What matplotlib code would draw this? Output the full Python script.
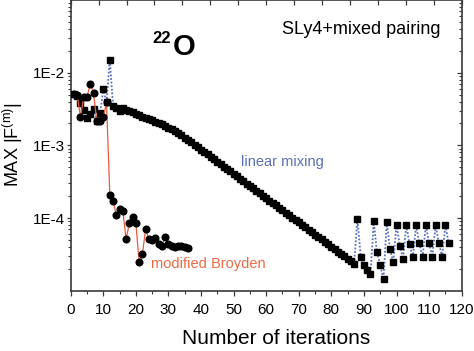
import numpy as np
import matplotlib
matplotlib.use("Agg")
import matplotlib.pyplot as plt
from matplotlib.ticker import FixedLocator, NullFormatter, FixedFormatter

plt.rcParams['font.family'] = ['Liberation Sans', 'DejaVu Sans']
plt.rcParams['mathtext.fontset'] = 'custom'
plt.rcParams['mathtext.rm'] = 'Liberation Sans'
plt.rcParams['mathtext.it'] = 'Liberation Sans'

# ---- data (log10 of MAX|F^(m)|) ----
linear_iter = list(range(1, 117))
linear_log10 = [
    -2.30, -2.32, -2.42, -2.51, -2.63, -2.57, -2.50, -2.66, -2.56, -2.23,
    -2.41, -1.82, -2.46, -2.49, -2.53, -2.48, -2.51,
    -2.528, -2.547, -2.566, -2.585, -2.604, -2.621, -2.637, -2.653, -2.672,
    -2.691, -2.711, -2.733, -2.756, -2.781, -2.807, -2.835, -2.864, -2.894,
    -2.926, -2.959, -2.991, -3.025, -3.058,
    -3.091, -3.125, -3.158, -3.192, -3.225, -3.258, -3.292, -3.325, -3.359,
    -3.392, -3.425, -3.459, -3.492, -3.526, -3.559, -3.592, -3.626, -3.659,
    -3.693, -3.726, -3.759, -3.793, -3.826, -3.860, -3.893, -3.926, -3.960,
    -3.993, -4.027, -4.060, -4.093, -4.127, -4.160, -4.194, -4.227, -4.260,
    -4.294, -4.327, -4.361, -4.394, -4.427, -4.461, -4.494, -4.528, -4.561,
    -4.594, -4.628,
    -4.01, -4.53, -4.65, -4.71, -4.77, -4.04, -4.47, -4.65, -4.84,
    -4.06, -4.43, -4.61, -4.09, -4.38, -4.56, -4.10, -4.36, -4.54,
    -4.10, -4.35, -4.54, -4.10, -4.35, -4.53, -4.10, -4.35, -4.53,
    -4.10, -4.35,
]

broyden_iter = list(range(1, 37))
broyden_log10 = [
    -2.29, -2.31, -2.61, -2.34, -2.34, -2.15, -2.28, -2.67, -2.67, -2.61,
    -2.41,
    -3.68, -3.76, -3.96, -3.88, -3.90, -4.29, -4.07, -3.99, -4.07, -4.61,
    -4.50, -4.15, -4.29, -4.30, -4.27, -4.36, -4.38, -4.26, -4.36, -4.38,
    -4.40, -4.39, -4.39, -4.40, -4.41,
]

x_ticks = [0, 10, 20, 30, 40, 50, 60, 70, 80, 90, 100, 110, 120]
y_ticks = [1e-4, 1e-3, 1e-2]
y_ticklabels = ['1E-4', '1E-3', '1E-2']

linear_vals = [10 ** v for v in linear_log10]
broyden_vals = [10 ** v for v in broyden_log10]

# ---- figure ----
W, H = 474, 351
fig = plt.figure(figsize=(W / 100, H / 100), dpi=100)
ax_l, ax_r, ax_b, ax_t = 70.7, 461.7, 290.7, 0.0
ax = fig.add_axes([ax_l / W, 1 - ax_b / H, (ax_r - ax_l) / W, (ax_b - ax_t) / H])

blue = '#5b72c0'
red = '#ea5a3e'
axis_col = '#3a3a3a'

ax.plot(linear_iter, linear_vals, linestyle=(0, (1.0, 1.0)), color=blue, lw=1.3,
        marker='s', ms=4.0, mfc='black', mec='black', zorder=3)
ax.plot(broyden_iter, broyden_vals, linestyle='-', color=red, lw=0.9,
        marker='o', ms=4.8, mfc='black', mec='black', zorder=4)

ax.set_yscale('log')
ax.set_xlim(0, 120)
ax.set_ylim(1e-5, 1e-1)

ax.xaxis.set_major_locator(FixedLocator(x_ticks))
ax.xaxis.set_minor_locator(FixedLocator(np.arange(5, 120, 10)))
ax.yaxis.set_major_locator(FixedLocator(y_ticks))
ax.yaxis.set_major_formatter(FixedFormatter(y_ticklabels))
minor_y = [k * 10.0 ** n for n in range(-5, -1) for k in range(2, 10)]
ax.yaxis.set_minor_locator(FixedLocator(minor_y))
ax.yaxis.set_minor_formatter(NullFormatter())

ax.tick_params(axis='x', which='major', direction='out', length=3.5, width=0.9,
               labelsize=11, pad=5, color=axis_col)
ax.tick_params(axis='x', which='minor', direction='out', length=2.2, width=0.8, color=axis_col)
ax.tick_params(axis='y', which='major', direction='out', length=3.0, width=0.9,
               labelsize=11, pad=1, color=axis_col)
ax.tick_params(axis='y', which='minor', direction='out', length=2.0, width=0.8, color=axis_col)

for s in ax.spines.values():
    s.set_color(axis_col)
    s.set_linewidth(1.2)

# right axis ticks (inward)
axr = ax.twinx()
axr.set_yscale('log')
axr.set_ylim(ax.get_ylim())
axr.yaxis.set_major_locator(FixedLocator(y_ticks))
axr.yaxis.set_minor_locator(FixedLocator(minor_y))
axr.yaxis.set_major_formatter(NullFormatter())
axr.yaxis.set_minor_formatter(NullFormatter())
axr.tick_params(axis='y', which='major', direction='in', length=3.5, width=0.9, color=axis_col)
axr.tick_params(axis='y', which='minor', direction='in', length=2.2, width=0.8, color=axis_col)
for s in axr.spines.values():
    s.set_visible(False)

# top axis ticks (inward)
axt = ax.twiny()
axt.set_xlim(0, 120)
axt.xaxis.set_major_locator(FixedLocator(np.linspace(0, 120, 15)))
axt.xaxis.set_major_formatter(NullFormatter())
axt.tick_params(axis='x', which='major', direction='in', length=3.5, width=0.9, color=axis_col)
for s in axt.spines.values():
    s.set_visible(False)

def fx(px):
    return px / W

def fy(py):
    return 1 - py / H

fig.text(fx(13), fy(145), 'MAX |F$^{(m)}$|', rotation=90, ha='center', va='center', fontsize=13)
fig.text(fx(276), fy(344), 'Number of iterations', ha='center', va='baseline', fontsize=15)

fig.text(fx(152.7), fy(43.3), '22', ha='left', va='baseline', fontsize=12, fontweight='bold')
fig.text(fx(172.5), fy(55), 'O', ha='left', va='baseline', fontsize=21, fontweight='bold')
fig.text(fx(441), fy(33.5), 'SLy4+mixed pairing', ha='right', va='baseline', fontsize=13)
fig.text(fx(240.7), fy(166), 'linear mixing', ha='left', va='baseline', fontsize=10.5, color='#5a6fb5')
fig.text(fx(150.7), fy(268.3), 'modified Broyden', ha='left', va='baseline', fontsize=10.5, color='#ee6a45')

fig.savefig('out.png', dpi=100)
